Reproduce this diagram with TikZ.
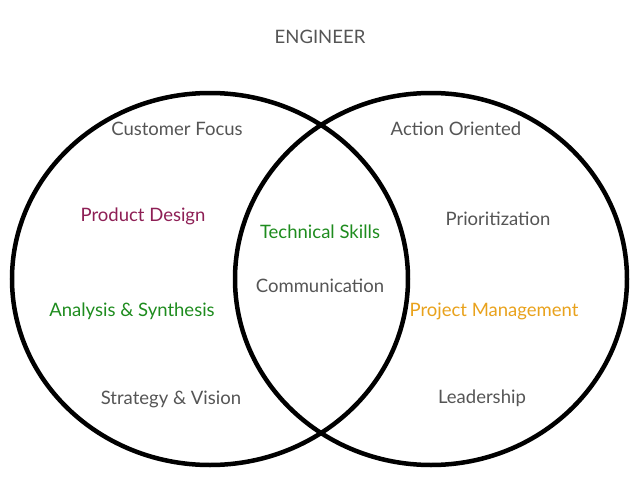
\documentclass[tikz,border=0pt]{standalone}
\usepackage{fontspec}
\setmainfont{Lato}
\usetikzlibrary{shapes.geometric}
\begin{document}
\begin{tikzpicture}[x=1pt,y=-1pt,
  lbl/.style={font=\fontsize{18.5}{21}\selectfont,text=txtgray,inner sep=0pt},
  ring/.style={draw=black,line width=4.5pt}]
\definecolor{txtgray}{HTML}{555555}
\definecolor{pdes}{HTML}{8E1F55}
\definecolor{grn}{HTML}{1E8C1E}
\definecolor{org}{HTML}{E9A21C}
\useasboundingbox[fill=white] (0,0) rectangle (638,479);
\node[ring,ellipse,minimum width=396pt,minimum height=372pt,inner sep=0pt] (L) at (210,279) {};
\node[ring,ellipse,minimum width=392pt,minimum height=372pt,inner sep=0pt] (R) at (431,279) {};
\node[lbl] (t) at (320,37) {ENGINEER};
\node[lbl] (a) at (177,129) {Customer Focus};
\node[lbl,text=pdes] (b) at (143,216) {Product Design};
\node[lbl,text=grn] (c) at (132,311) {Analysis \& Synthesis};
\node[lbl] (d) at (171,399) {Strategy \& Vision};
\node[lbl,text=grn] (e) at (320,232) {Technical Skills};
\node[lbl] (f) at (320,286) {Communication};
\node[lbl] (g) at (456,129) {Action Oriented};
\node[lbl] (h) at (498,219) {Prioritization};
\node[lbl,text=org] (i) at (494,311) {Project Management};
\node[lbl] (j) at (482,398) {Leadership};
\end{tikzpicture}
\end{document}
